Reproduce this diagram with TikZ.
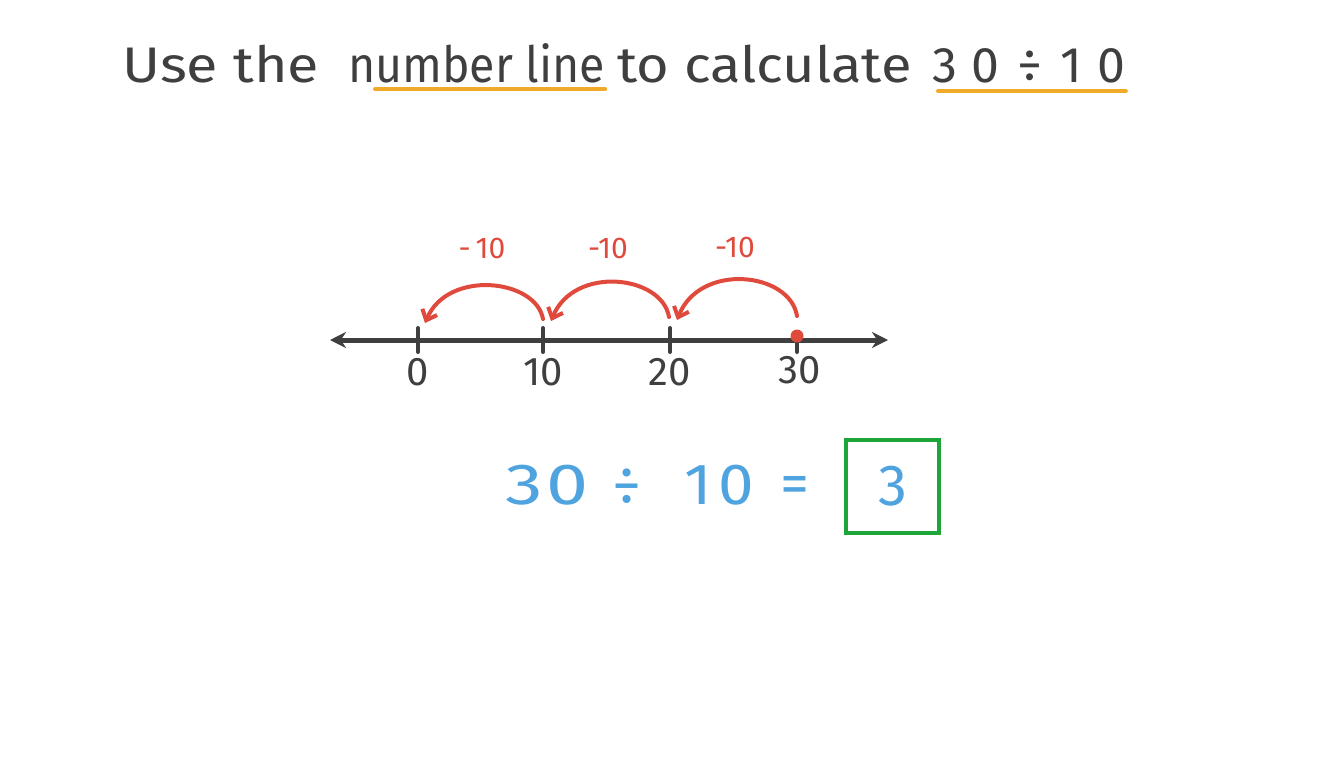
\documentclass[tikz,border=0pt]{standalone}
\usepackage{fontspec}
\setmainfont{Fira Sans}
\usetikzlibrary{arrows.meta}
\definecolor{ink}{HTML}{3F3F3F}
\definecolor{jump}{HTML}{E04A3C}
\definecolor{hl}{HTML}{F0A928}
\definecolor{eqblue}{HTML}{4FA3DF}
\definecolor{boxgreen}{HTML}{1EA53A}
\tikzset{
  titletxt/.style={inner sep=0pt, anchor=base west, text=ink, font=\fontsize{50}{60}\selectfont},
  uline/.style={draw=hl, line width=4pt, line cap=round},
  axis/.style={draw=ink, line width=5pt, {Stealth[length=16pt,width=16pt]}-{Stealth[length=16pt,width=16pt]}},
  tick/.style={draw=ink, line width=4pt, line cap=round},
  numlbl/.style={inner sep=0pt, text=ink, font=\fontsize{40}{48}\selectfont},
  jumparc/.style={draw=jump, line width=4pt, line cap=round, -{Straight Barb[length=9pt,width=16pt,line width=4pt]}},
  jumplbl/.style={inner sep=0pt, text=jump, font=\fontsize{30}{36}\selectfont},
  eqtxt/.style={inner sep=0pt, text=eqblue, font=\fontsize{58}{70}\selectfont},
  ansbox/.style={draw=boxgreen, line width=4.5pt, minimum width=93pt, minimum height=93pt, inner sep=0pt, text=eqblue, font=\fontsize{58}{70}\selectfont}
}
\begin{document}
\begin{tikzpicture}[x=1pt,y=-1pt]
\useasboundingbox[fill=white] (0,0) rectangle (1344,756);
% title
\node[titletxt] (t1) at (122,82) {\scalebox{1.15}[1]{Use the}};
\node[titletxt] (t2) at (348,82) {\scalebox{0.93}[1]{number line}};
\node[titletxt] (t3) at (617,82) {\scalebox{1.12}[1]{to calculate}};
\node[titletxt] (t4) at (932,82) {3\kern14pt0\kern18pt÷\kern18pt1\kern16pt0};
\draw[uline] ([xshift=27pt,yshift=-7pt]t2.base west) -- ([yshift=-7pt]t2.base east);
\draw[uline] ([xshift=6pt,yshift=-9pt]t4.base west) -- ([yshift=-9pt]t4.base east);
% number line
\coordinate (L) at (330,340);
\coordinate (R) at (888,340);
\draw[axis] (L) -- (R);
\coordinate (p0) at (418,340);
\coordinate (p10) at (543,340);
\coordinate (p20) at (670,340);
\coordinate (p30) at (797,340);
\foreach \p in {p0,p10,p20}{
  \draw[tick] ([yshift=12pt]\p) -- ([yshift=-12pt]\p);
}
\draw[tick] (p30) -- ([yshift=-12pt]p30);
\fill[jump] (p30) ++(0,-4) circle (6.5pt);
\node[numlbl] (l0) at (418,372) {0};
\node[numlbl] (l10) at (543,372) {10};
\node[numlbl] (l20) at (670,372) {20};
\node[numlbl] (l30) at (800,370) {30};
% jumps
\coordinate (s3) at (797,316);
\coordinate (e3) at (677,320);
\coordinate (s2) at (669,317);
\coordinate (e2) at (551,321);
\coordinate (s1) at (543,319);
\coordinate (e1) at (425,323);
\draw[jumparc] (s3) .. controls (790,272) and (700,262) .. (e3);
\draw[jumparc] (s2) .. controls (662,275) and (574,265) .. (e2);
\draw[jumparc] (s1) .. controls (536,279) and (448,269) .. (e1);
\node[jumplbl] (j1) at (482,248) {-\,10};
\node[jumplbl] (j2) at (608,248) {-10};
\node[jumplbl] (j3) at (735,247) {-10};
% equation
\node[eqtxt] (e30) at (547,485) {\scalebox{1.3}[1]{3\kern2pt0}};
\node[eqtxt] (ediv) at (627,487) {÷};
\node[eqtxt] (e10) at (719,485) {\scalebox{1.1}[1]{1\kern6pt0}};
\node[eqtxt] (eeq) at (795,490) {=};
\node[ansbox] (ans) at (892.5,486.5) {3};
\end{tikzpicture}
\end{document}
